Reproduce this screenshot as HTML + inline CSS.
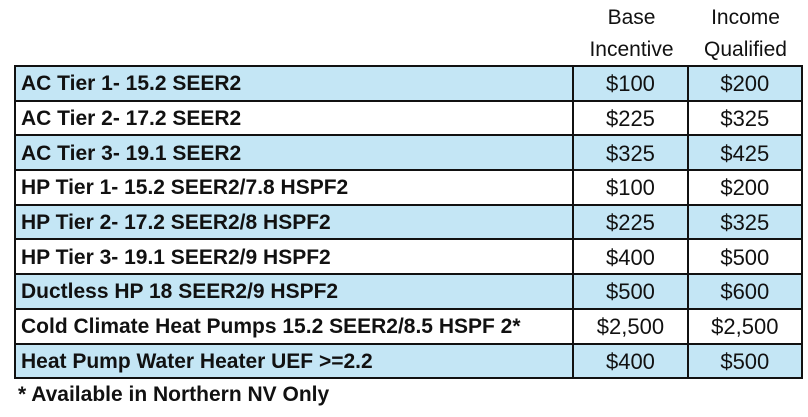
<!DOCTYPE html>
<html><head><style>
body{margin:0;width:808px;height:417px;background:#fff;font-family:"Liberation Sans",sans-serif;position:relative;overflow:hidden}
.h{position:absolute;width:115px;text-align:center;font-size:21px;color:#111;line-height:32px}
table{position:absolute;left:14px;top:65px;border-collapse:collapse;width:789px}
td{border:2px solid #111;height:30.7px;padding:2px 0 0 0;font-size:21px;color:#111;line-height:24px}
td.l{font-weight:bold;padding-left:5px;width:552px;white-space:nowrap}
td.v{text-align:center;width:113px;font-size:22px}
tr.b td{background:#c4e6f5}
.f{position:absolute;left:18px;top:383px;font-weight:bold;font-size:21px;color:#111}
</style></head><body>
<div class="h" style="left:574px;top:2px">Base<br>Incentive</div>
<div class="h" style="left:688px;top:2px">Income<br>Qualified</div>
<table>
<tr class="b"><td class="l">AC Tier 1- 15.2 SEER2</td><td class="v">$100</td><td class="v">$200</td></tr>
<tr><td class="l">AC Tier 2- 17.2 SEER2</td><td class="v">$225</td><td class="v">$325</td></tr>
<tr class="b"><td class="l">AC Tier 3- 19.1 SEER2</td><td class="v">$325</td><td class="v">$425</td></tr>
<tr><td class="l">HP Tier 1- 15.2 SEER2/7.8 HSPF2</td><td class="v">$100</td><td class="v">$200</td></tr>
<tr class="b"><td class="l">HP Tier 2- 17.2 SEER2/8 HSPF2</td><td class="v">$225</td><td class="v">$325</td></tr>
<tr><td class="l">HP Tier 3- 19.1 SEER2/9 HSPF2</td><td class="v">$400</td><td class="v">$500</td></tr>
<tr class="b"><td class="l">Ductless HP 18 SEER2/9 HSPF2</td><td class="v">$500</td><td class="v">$600</td></tr>
<tr><td class="l">Cold Climate Heat Pumps 15.2 SEER2/8.5 HSPF 2*</td><td class="v">$2,500</td><td class="v">$2,500</td></tr>
<tr class="b"><td class="l">Heat Pump Water Heater UEF &gt;=2.2</td><td class="v">$400</td><td class="v">$500</td></tr>
</table>
<div class="f">* Available in Northern NV Only</div>
</body></html>
